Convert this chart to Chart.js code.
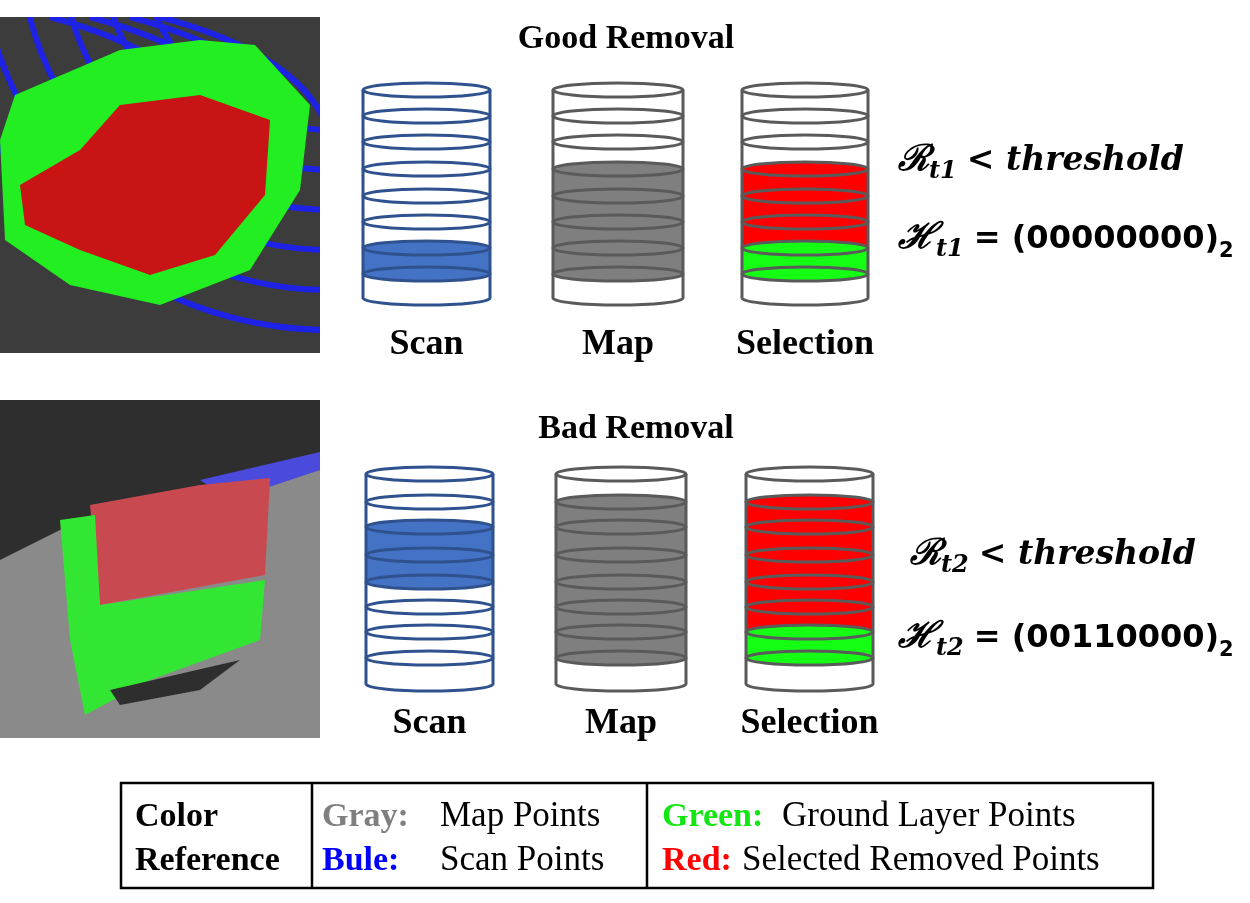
<!DOCTYPE html>
<html>
<head>
<meta charset="utf-8">
<script src="https://cdn.jsdelivr.net/npm/chart.js@4/dist/chart.umd.min.js"></script>
<style>
  html, body { margin: 0; padding: 0; background: #fff; }
  canvas { display: block; }
</style>
</head>
<body>
<canvas id="fig" width="1250" height="903"></canvas>
<script>
// layer levels (y of each ring), one list per row
const goodLevels = [90, 116, 142, 169, 196, 222, 248, 274, 298];
const badLevels = [474, 502, 527, 555, 582, 607, 632, 658, 684];

// cylinder x ranges
const goodX = [[363, 490], [553, 683], [742, 868]];
const badX = [[366, 493], [556, 686], [746, 873]];

const cylLabels = ['Scan', 'Map', 'Selection'];
const outlineColors = ['#2F528F', '#5A5A5A', '#5A5A5A'];

// rings drawn (level index), fills [from, to, color]
const goodRings = [[0, 1, 2, 3, 4, 5, 6, 7], [0, 1, 2, 3, 4, 5, 6, 7], [0, 1, 2, 3, 4, 5, 6, 7]];
const goodFills = [[[6, 7, '#4472C4']], [[3, 7, '#7F7F7F']], [[3, 6, '#FF0000'], [6, 7, '#14FF14']]];
const badRings = [[0, 1, 2, 3, 4, 5, 6, 7], [0, 1, 2, 3, 4, 5, 6, 7], [0, 1, 2, 3, 4, 5, 6, 7]];
const badFills = [[[2, 4, '#4472C4']], [[1, 7, '#7F7F7F']], [[1, 6, '#FF0000'], [6, 7, '#14FF14']]];

// point cloud sketch regions
const goodCloudGreen = [[15, 95], [120, 50], [200, 40], [255, 45], [310, 105], [300, 190], [250, 270], [160, 305], [70, 285], [5, 240], [0, 140]];
const goodCloudRed = [[20, 185], [80, 150], [120, 105], [200, 95], [270, 120], [265, 195], [215, 255], [150, 275], [80, 250], [25, 225]];
const badCloudGray = [[0, 560], [80, 520], [320, 470], [320, 738], [0, 738]];
const badCloudRed = [[90, 505], [200, 485], [270, 478], [265, 575], [100, 605]];
const badCloudGreen = [[60, 520], [95, 515], [100, 605], [265, 580], [260, 640], [150, 680], [85, 715], [70, 640]];
const badCloudBlue = [[200, 480], [320, 452], [320, 470], [230, 500]];

const rowTitles = ['Good Removal', 'Bad Removal'];

function cylinder(ctx, sx, sy, x0, x1, levels, rings, fills, stroke) {
  const cx = sx((x0 + x1) / 2), rx = (sx(x1) - sx(x0)) / 2, ry = 7;
  const L = levels.map(sy);
  const top = L[0], bot = L[L.length - 1];
  ctx.lineWidth = 3;
  ctx.strokeStyle = stroke;
  fills.forEach(([a, b, c]) => {
    ctx.fillStyle = c;
    ctx.beginPath();
    ctx.ellipse(cx, L[a], rx, ry, 0, Math.PI, 2 * Math.PI);
    ctx.lineTo(cx + rx, L[b]);
    ctx.ellipse(cx, L[b], rx, ry, 0, 0, Math.PI);
    ctx.closePath();
    ctx.fill();
  });
  ctx.beginPath();
  ctx.moveTo(cx - rx, top); ctx.lineTo(cx - rx, bot);
  ctx.moveTo(cx + rx, top); ctx.lineTo(cx + rx, bot);
  ctx.stroke();
  ctx.beginPath();
  ctx.ellipse(cx, bot, rx, ry, 0, 0, Math.PI);
  ctx.stroke();
  rings.forEach(i => {
    ctx.beginPath();
    ctx.ellipse(cx, L[i], rx, ry, 0, 0, 2 * Math.PI);
    ctx.stroke();
  });
}

function poly(ctx, sx, sy, pts, color) {
  ctx.fillStyle = color;
  ctx.beginPath();
  pts.forEach(([x, y], i) => i ? ctx.lineTo(sx(x), sy(y)) : ctx.moveTo(sx(x), sy(y)));
  ctx.closePath();
  ctx.fill();
}

function mathLine(ctx, x, y, sym, sub, rest) {
  ctx.textAlign = 'left';
  ctx.fillStyle = '#000';
  ctx.font = 'bold italic 36px "DejaVu Serif"';
  ctx.fillText(sym, x, y);
  let w = ctx.measureText(sym).width;
  ctx.font = 'bold italic 24px "DejaVu Serif"';
  ctx.fillText(sub, x + w, y + 8);
  w += ctx.measureText(sub).width + 10;
  rest.forEach(([t, f, dy]) => {
    ctx.font = f;
    ctx.fillText(t, x + w, y + dy);
    w += ctx.measureText(t).width;
  });
}

const figurePlugin = {
  id: 'figure',
  afterDraw(chart) {
    const ctx = chart.ctx;
    const sx = v => chart.scales.x.getPixelForValue(v);
    const sy = v => chart.scales.y.getPixelForValue(v);
    ctx.save();

    // top point cloud panel
    ctx.save();
    ctx.beginPath(); ctx.rect(sx(0), sy(17), sx(320) - sx(0), sy(353) - sy(17)); ctx.clip();
    poly(ctx, sx, sy, [[0, 17], [320, 17], [320, 353], [0, 353]], '#3C3C3C');
    ctx.strokeStyle = '#1E22E6'; ctx.lineWidth = 6;
    [190, 230, 270, 310, 350, 390].forEach(r => {
      ctx.beginPath(); ctx.arc(sx(330), sy(-60), r, 0.5 * Math.PI, 0.95 * Math.PI); ctx.stroke();
    });
    [200, 240, 280, 310].forEach(x => {
      ctx.beginPath(); ctx.moveTo(sx(x - 150), sy(17)); ctx.quadraticCurveTo(sx(x), sy(57), sx(x + 20), sy(137)); ctx.stroke();
    });
    poly(ctx, sx, sy, goodCloudGreen, '#22EE22');
    poly(ctx, sx, sy, goodCloudRed, '#C81414');
    ctx.restore();

    // bottom point cloud panel
    ctx.save();
    ctx.beginPath(); ctx.rect(sx(0), sy(400), sx(320) - sx(0), sy(738) - sy(400)); ctx.clip();
    poly(ctx, sx, sy, [[0, 400], [320, 400], [320, 738], [0, 738]], '#2E2E2E');
    poly(ctx, sx, sy, badCloudGray, '#8A8A8A');
    poly(ctx, sx, sy, badCloudBlue, '#4A4ADC');
    poly(ctx, sx, sy, badCloudRed, '#C84A50');
    poly(ctx, sx, sy, badCloudGreen, '#33E633');
    poly(ctx, sx, sy, [[110, 690], [240, 660], [200, 690], [120, 705]], '#2E2E2E');
    ctx.restore();

    // titles
    ctx.fillStyle = '#000';
    ctx.textAlign = 'center';
    ctx.textBaseline = 'alphabetic';
    ctx.font = 'bold 34px "Liberation Serif"';
    ctx.fillText(rowTitles[0], sx(626), sy(48));
    ctx.fillText(rowTitles[1], sx(636), sy(438));

    // cylinders
    for (let i = 0; i < 3; i++) {
      cylinder(ctx, sx, sy, goodX[i][0], goodX[i][1], goodLevels, goodRings[i], goodFills[i], outlineColors[i]);
      cylinder(ctx, sx, sy, badX[i][0], badX[i][1], badLevels, badRings[i], badFills[i], outlineColors[i]);
      ctx.fillStyle = '#000';
      ctx.textAlign = 'center';
      ctx.font = 'bold 36px "Liberation Serif"';
      ctx.fillText(cylLabels[i], sx((goodX[i][0] + goodX[i][1]) / 2), sy(354));
      ctx.fillText(cylLabels[i], sx((badX[i][0] + badX[i][1]) / 2), sy(733));
    }

    // math text
    const cmp = [['< threshold', 'bold italic 33px "DejaVu Serif"', 0]];
    const h1 = [['= (00000000)', 'bold 32px "DejaVu Sans"', 0], ['2', 'bold 21px "DejaVu Sans"', 9]];
    const h2 = [['= (00110000)', 'bold 32px "DejaVu Sans"', 0], ['2', 'bold 21px "DejaVu Sans"', 9]];
    mathLine(ctx, sx(898), sy(170), 'ℛ', 't1', cmp);
    mathLine(ctx, sx(898), sy(248), 'ℋ', 't1', h1);
    mathLine(ctx, sx(910), sy(564), 'ℛ', 't2', cmp);
    mathLine(ctx, sx(898), sy(647), 'ℋ', 't2', h2);

    // legend table
    ctx.strokeStyle = '#000'; ctx.lineWidth = 2.5;
    ctx.strokeRect(sx(121), sy(783), sx(1153) - sx(121), sy(888) - sy(783));
    ctx.beginPath();
    ctx.moveTo(sx(312), sy(783)); ctx.lineTo(sx(312), sy(888));
    ctx.moveTo(sx(647), sy(783)); ctx.lineTo(sx(647), sy(888));
    ctx.stroke();
    ctx.textAlign = 'left';
    const cell = (x, y, head, color, body, bx) => {
      ctx.font = 'bold 34px "Liberation Serif"';
      ctx.fillStyle = color;
      ctx.fillText(head, sx(x), sy(y));
      ctx.font = '35px "Liberation Serif"';
      ctx.fillStyle = '#000';
      ctx.fillText(body, sx(bx), sy(y));
    };
    cell(135, 826, 'Color', '#000', '', 0);
    cell(135, 870, 'Reference', '#000', '', 0);
    cell(322, 826, 'Gray:', '#7F7F7F', 'Map Points', 440);
    cell(322, 870, 'Bule:', '#0000FF', 'Scan Points', 440);
    cell(662, 826, 'Green:', '#14E614', 'Ground Layer Points', 782);
    cell(662, 870, 'Red:', '#FF0000', 'Selected Removed Points', 742);
    ctx.restore();
  }
};

new Chart(document.getElementById('fig'), {
  type: 'scatter',
  data: { datasets: [{ data: [] }] },
  options: {
    responsive: false,
    animation: false,
    layout: { padding: 0 },
    plugins: { legend: { display: false }, tooltip: { enabled: false } },
    scales: {
      x: { type: 'linear', min: 0, max: 1250, display: false },
      y: { type: 'linear', min: 0, max: 903, reverse: true, display: false }
    }
  },
  plugins: [figurePlugin]
});
</script>
</body>
</html>
